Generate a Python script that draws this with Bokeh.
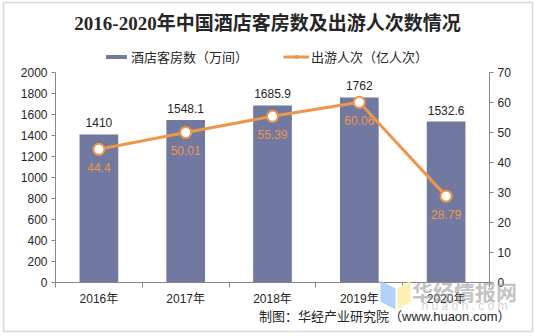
from bokeh.plotting import figure
from bokeh.models import (Range1d, LinearAxis, FixedTicker, Label, LabelSet, Legend,
                          LegendItem, ColumnDataSource, BoxAnnotation, PolyAnnotation)
from bokeh.core.properties import value
from bokeh.embed import file_html
from bokeh.resources import INLINE

# Data
years = ["2016年", "2017年", "2018年", "2019年", "2020年"]
rooms = [1410, 1548.1, 1685.9, 1762, 1532.6]          # 酒店客房数（万间）
trips = [44.4, 50.01, 55.39, 60.06, 28.79]            # 出游人次（亿人次）
room_labels = ["1410", "1548.1", "1685.9", "1762", "1532.6"]
trip_labels = ["44.4", "50.01", "55.39", "60.06", "28.79"]
left_ticks = list(range(0, 2001, 200))
right_ticks = list(range(0, 71, 10))

BAR = "#7179A0"
ORANGE = "#F0964B"
AXIS = "#868686"
TEXT = "#262626"
SANS = "Liberation Sans, Noto Sans CJK SC"

W, H = 534, 336
# plot box (pixels from the canvas' top-left) holding the value axes
BOX_L, BOX_R, BOX_T, BOX_B = 55, 489, 72, 282

n = len(years)
xs = [i + 0.5 for i in range(n)]
src = ColumnDataSource(dict(x=xs, rooms=rooms, trips=trips,
                            room_labels=room_labels, trip_labels=trip_labels))


def padded(lo, hi, px_lo, px_hi, full):
    """Range whose [lo, hi] lands on pixels [px_lo, px_hi] of a span of `full` pixels."""
    per_px = (hi - lo) / (px_hi - px_lo)
    return Range1d(lo - px_lo * per_px, hi + (full - px_hi) * per_px)


p = figure(width=W, height=H,
           x_range=padded(0, n, BOX_L, BOX_R, W),
           y_range=padded(0, 2000, H - BOX_B, H - BOX_T, H),
           output_backend="svg", toolbar_location=None,
           min_border_left=0, min_border_right=0, min_border_top=0, min_border_bottom=0)
p.extra_y_ranges = {"trips": padded(0, 70, H - BOX_B, H - BOX_T, H)}
p.outline_line_color = None
p.xgrid.visible = False
p.ygrid.visible = False
p.background_fill_color = "white"
p.border_fill_color = "white"

# axes
right = LinearAxis(y_range_name="trips", ticker=FixedTicker(ticks=right_ticks),
                   fixed_location=n, bounds=(0, 70))
p.add_layout(right, "right")
left = p.yaxis[0]
left.ticker = FixedTicker(ticks=left_ticks)
left.fixed_location = 0
left.bounds = (0, 2000)
bottom = p.xaxis[0]
bottom.ticker = FixedTicker(ticks=xs, minor_ticks=list(range(n + 1)))
bottom.major_label_overrides = {x: y for x, y in zip(xs, years)}
bottom.fixed_location = 0
bottom.bounds = (0, n)

for ax in [left, right, bottom]:
    ax.axis_line_color = AXIS
    ax.major_tick_line_color = AXIS
    ax.minor_tick_line_color = AXIS
    ax.major_tick_in = 0
    ax.major_tick_out = 4
    ax.minor_tick_in = 0
    ax.minor_tick_out = 0
    ax.major_label_text_font = SANS
    ax.major_label_text_font_size = "12px"
    ax.major_label_text_color = TEXT
    ax.major_label_standoff = 4
bottom.major_tick_out = 0
bottom.minor_tick_out = 5
bottom.major_label_standoff = 4

# bars and line
bars = p.vbar(x="x", top="rooms", width=0.446, source=src, fill_color=BAR, line_color=None)
line = p.line(x="x", y="trips", source=src, y_range_name="trips", line_color=ORANGE, line_width=3)
dots = p.scatter(x="x", y="trips", source=src, y_range_name="trips", size=11,
                 fill_color="white", line_color=ORANGE, line_width=2)

p.add_layout(LabelSet(x="x", y="rooms", text="room_labels", source=src, y_offset=7,
                      text_align="center", text_baseline="bottom", text_font=value(SANS),
                      text_font_size="12px", text_color=TEXT))
p.add_layout(LabelSet(x="x", y="trips", text="trip_labels", source=src, y_range_name="trips",
                      y_offset=-18, text_align="center", text_baseline="middle",
                      text_font=value(SANS), text_font_size="12px", text_color=ORANGE))

# legend
legend = Legend(items=[LegendItem(label="酒店客房数（万间）", renderers=[bars]),
                       LegendItem(label="出游人次（亿人次）", renderers=[line, dots])],
                orientation="horizontal", location=(103, 270), padding=0, margin=0,
                spacing=35, glyph_width=26, glyph_height=5, label_standoff=2,
                label_text_font=SANS, label_text_font_size="13px", label_text_color=TEXT,
                border_line_color=None, background_fill_alpha=0)
p.add_layout(legend, "center")

# title and source note
p.add_layout(Label(x=267, y=H - 23, x_units="screen", y_units="screen",
                   text="2016-2020年中国酒店客房数及出游人次数情况",
                   text_font="Liberation Serif, Noto Sans CJK SC", text_font_style="bold",
                   text_font_size="19px", text_color="#262626",
                   text_align="center", text_baseline="middle"))
p.add_layout(Label(x=510, y=H - 316, x_units="screen", y_units="screen",
                   text="制图：华经产业研究院（www.huaon.com）", text_font=SANS,
                   text_font_size="13px", text_color=TEXT,
                   text_align="right", text_baseline="middle"))

# watermark
p.add_layout(PolyAnnotation(xs=[380, 395, 395, 380], ys=[H - 280, H - 288, H - 309, H - 301],
                            xs_units="screen", ys_units="screen",
                            fill_color="#A8CCF5", fill_alpha=0.9, line_color=None))
p.add_layout(PolyAnnotation(xs=[397, 410, 410, 397], ys=[H - 288, H - 280, H - 301, H - 309],
                            xs_units="screen", ys_units="screen",
                            fill_color="#FDEFA8", fill_alpha=0.9, line_color=None))
p.add_layout(Label(x=464, y=H - 290, x_units="screen", y_units="screen", text="华经情报网",
                   text_font="Noto Sans CJK SC", text_font_style="bold", text_font_size="21px",
                   text_color="#9A9A9A", text_alpha=0.6, text_align="center",
                   text_baseline="middle"))
p.add_layout(Label(x=464, y=H - 305, x_units="screen", y_units="screen",
                   text="h u a o n . c o m", text_font=SANS, text_font_size="12px",
                   text_color="#C8C8C8", text_alpha=0.8, text_align="center",
                   text_baseline="middle"))

# outer frame
p.add_layout(BoxAnnotation(left=3, right=532, top=H - 2, bottom=H - 331,
                           left_units="screen", right_units="screen",
                           top_units="screen", bottom_units="screen",
                           fill_alpha=0, line_color="#808080", line_width=1.5))

open("out.html", "w").write(file_html(p, INLINE))
